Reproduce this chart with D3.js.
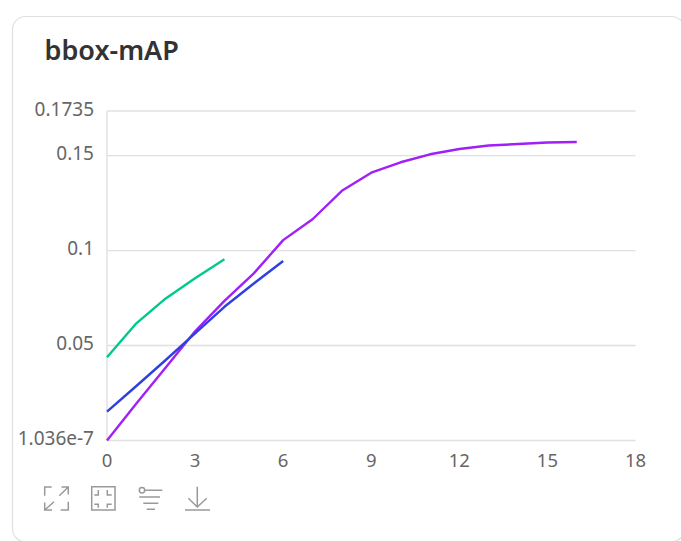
<!DOCTYPE html>
<html><head><meta charset="utf-8">
<script src="https://cdn.jsdelivr.net/npm/d3@7/dist/d3.min.js"></script>
<style>html,body{margin:0;padding:0;background:#fff;overflow:hidden}svg{display:block}text{font-family:"Noto Sans","Open Sans",sans-serif}</style>
</head><body><svg id="c" width="681" height="541"></svg>
<script>
const titleText = "bbox-mAP";
const xTicks = [0,3,6,9,12,15,18];
const yTicks = [1.036e-7,0.05,0.1,0.15,0.1735];
const yLabels = ["1.036e-7","0.05","0.1","0.15","0.1735"];
const purpleValues = [0,0.0195,0.0385,0.0575,0.0735,0.0880,0.1055,0.1165,0.1315,0.1410,0.1465,0.1507,0.1535,0.1553,0.1561,0.1569,0.1572];
const blueValues = [0.0152,0.0287,0.0424,0.0564,0.0704,0.0827,0.0945];
const greenValues = [0.0438,0.0617,0.0748,0.0854,0.0954];
const seriesColors = ["#a020f8","#2f3fe0","#00c98d"];

const svg = d3.select("#c");
svg.append("rect").attr("x",12.5).attr("y",16.5).attr("width",672).attr("height",525.300)
  .attr("rx",13).attr("fill","#fff").attr("stroke","#e0e0e0").attr("stroke-width",1.2);
svg.append("text").attr("x",44.5).attr("y",60).attr("font-size",27).attr("font-weight",600)
  .attr("fill","#333").text(titleText);

const x = d3.scaleLinear().domain([0,18]).range([107,635.5]);
const y = d3.scaleLinear().domain([0,0.1735]).range([440.5,111]);

const grid = svg.append("g");
yTicks.forEach((t,i)=>{
  grid.append("line").attr("x1",x(0)).attr("x2",x(18)).attr("y1",y(t)).attr("y2",y(t))
    .attr("stroke","#e0e0e0").attr("stroke-width",1.4);
  grid.append("text").attr("x",94).attr("y",y(t)+4.8).attr("text-anchor","end")
    .attr("font-size",19).attr("fill","#666").text(yLabels[i]);
});
grid.append("line").attr("x1",x(0)).attr("x2",x(0)).attr("y1",y(0.1735)).attr("y2",y(0))
  .attr("stroke","#e0e0e0").attr("stroke-width",1.4);
xTicks.forEach(t=>{
  grid.append("text").attr("x",x(t)).attr("y",467).attr("text-anchor","middle")
    .attr("font-size",18.5).attr("fill","#666").text(t);
});

const line = d3.line().x((d,i)=>x(i)).y(d=>y(d));
[[purpleValues,0],[blueValues,1],[greenValues,2]].forEach(([v,c])=>{
  svg.append("path").datum(v).attr("d",line).attr("fill","none")
    .attr("stroke",seriesColors[c]).attr("stroke-width",2.4).attr("stroke-linejoin","round");
});

// toolbox icons
const icons = svg.append("g").attr("fill","none").attr("stroke","#999").attr("stroke-width",1.5);
icons.append("path").attr("d","M44.700 495.700V487H51.700 M68.300 501.700V510H60.700 M59.300 495.700L68.300 487 M61.500 487H68.300V494.500 M44.700 510L54 501.700 M44.700 502.500V510H52");
icons.append("path").attr("d","M91.700 486.700H115V510H91.700Z M98.300 490V495H94.300 M107.300 490V495H111.700 M94.300 504.300H98.300V507.700 M111.700 504.300H107.300V507.700");
icons.append("circle").attr("cx",142).attr("cy",490.3).attr("r",2.7);
icons.append("path").attr("d","M145 490.300H162.300 M139.300 497H160 M143.300 503.300H158.300 M146.700 509.300H155");
icons.append("path").attr("d","M197.300 486.700V507 M188.300 498.300L197.300 507L206.700 498.300 M185 510H210");
</script></body></html>
